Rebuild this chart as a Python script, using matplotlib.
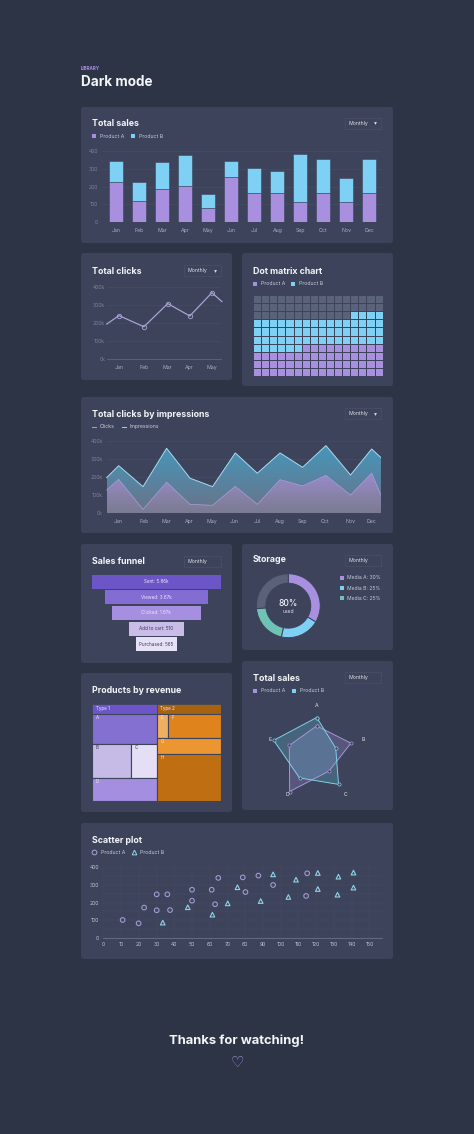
import numpy as np
import matplotlib
matplotlib.use('Agg')
import matplotlib.pyplot as plt
from matplotlib.patches import FancyBboxPatch, Rectangle
from matplotlib.colors import LinearSegmentedColormap, ListedColormap

# ---------- data ----------
months = ['Jan','Feb','Mar','Apr','May','Jun','Jul','Aug','Sep','Oct','Nov','Dec']
sales_a = [228,121,185,202,78,256,163,163,112,163,112,163]
sales_b = [114,105,151,174,81,86,143,127,269,192,137,192]

click_x = [-0.53,0,1.07,2.1,3.05,4,4.43]
click_y = [195,242,180,309,240,370,320]
click_labels = months[:5]
click_ticks = [0,1.1,2.06,3.03,4]

dot_rows = [  # bottom to top; 0 grey, 1 purple, 2 cyan
    [1]*16,[1]*16,[1]*16,[2]*6+[1]*10,[2]*16,[2]*16,[2]*16,[0]*12+[2]*4,[0]*16,[0]*16]

area_x = [-0.53,0,1.07,2.11,3.14,4.13,5.13,6.10,7.10,8.09,9.12,10.2,11.13,11.54]
impressions = [197,264,147,361,194,147,335,222,335,255,376,212,357,309]
clicks = [128,188,20,172,48,43,149,48,186,151,210,100,223,100]
area_ticks = [0,1.13,2.11,3.1,4.1,5.1,6.1,7.1,8.1,9.09,10.2,11.13]

funnel_labels = ['Sent: 5.86k','Viewed: 3.67k','Clicked: 1.87k','Add to cart: 510','Purchased: 565']
funnel_widths = [128.7,103.3,89.7,54.3,40.3]

storage_values = [33.5,20,20,26.5]
storage_labels = ['Media A: 30%','Media B: 25%','Media C: 25%']

tree_t1 = [[('A',16791)],[('B',11628),('C',7752)],[('D',12738)]]
tree_t2 = [[('E',2376),('F',11160)],[('G',8550)],[('H',26030)]]

radar_axes = ['A','B','C','D','E']
radar_a = [71,90,52,115,72]
radar_b = [92,50,93,73,113]

sc_ax = [10.9,19.9,23,30.1,30.1,36.1,37.6,50,50,61.1,63,64.8,78.6,80.1,87.4,95.7,114.3,114.9]
sc_ay = [102,83,172,157,247,247,158,211,273,273,191,340,343,260,353,300,238,366]
sc_bx = [33.5,47.6,61.5,70.1,75.6,88.7,95.7,104.3,108.6,120.9,120.9,132,132.5,141,141]
sc_by = [87,174,132,196,287,209,360,232,330,368,277,245,347,370,285]

# ---------- style ----------
BG='#2d3446'; CARD='#3c435a'; WHITE='#f4f5f8'; TICK='#7d8398'; XT='#a9aebf'; GRID='#464d64'
PURPLE='#a88fdf'; CYAN='#7fd0f5'; TEAL='#6fc3b4'; GREYC='#596279'
plt.rcParams['font.family']=['Inter','DejaVu Sans']
W,H=474,1134
fig=plt.figure(figsize=(W/100,H/100),dpi=100,facecolor=BG)
bgax=fig.add_axes([0,0,1,1]); bgax.set_xlim(0,W); bgax.set_ylim(H,0); bgax.axis('off')

def px(pt): return pt*0.72
def axpx(l,t,r,b,**k):
    a=fig.add_axes([l/W,1-b/H,(r-l)/W,(b-t)/H],**k); a.patch.set_alpha(0)
    return a
def card(l,t,r,b):
    bgax.add_patch(FancyBboxPatch((l+2,t+2),r-l-4,b-t-4,boxstyle='round,pad=2,rounding_size=2.5',fc=CARD,ec='none'))
def title(x,y,s,size=8.8):
    bgax.text(x,y+3.2,s,color=WHITE,fontsize=px(size),fontweight='bold',va='baseline',ha='left')
def dropdown(l,t,r,b,arrow=True):
    bgax.add_patch(Rectangle((l,t),r-l,b-t,fc=CARD,ec='#495068',lw=0.5))
    bgax.text(l+4,(t+b)/2,'Monthly',color='#dfe2ea',fontsize=px(5.2),va='center')
    if arrow:
        bgax.plot([r-6],[(t+b)/2],marker='v',ms=2,color='#dfe2ea',mew=0)
def legend_sq(x,y,c,s):
    bgax.add_patch(Rectangle((x,y-2),4,4,fc=c,ec='none'))
    bgax.text(x+8,y,s,color='#c9cdd9',fontsize=px(5.2),va='center')
def style(a,grid_y=True):
    for s in a.spines.values(): s.set_visible(False)
    a.tick_params(length=0,labelsize=px(5.2),pad=4)
    a.tick_params(axis='y',labelcolor=TICK)
    a.tick_params(axis='x',labelcolor=XT)
    if grid_y:
        a.grid(axis='y',color=GRID,lw=0.5); a.set_axisbelow(True)
def klabels(v): return [f'{int(t)}k' for t in v]

bgax.text(81,68.5,'LIBRARY',color=PURPLE,fontsize=px(4.5),fontweight='bold',va='center')
bgax.text(81,82,'Dark mode',color=WHITE,fontsize=px(13.5),fontweight='bold',va='center')
bgax.text(237,1041,'Thanks for watching!',color=WHITE,fontsize=px(13),fontweight='bold',va='center',ha='center')
bgax.text(237,1062,'\u2661',color=PURPLE,fontsize=px(15),va='center',ha='center',family='DejaVu Sans')

for c in [(81,107,393,243),(81,253,232,380),(242,253,393,386),(81,397,393,533),
          (81,544,232,663),(242,544,393,650),(81,673,232,812),(242,661,393,810),(81,823,393,959)]:
    card(*c)

# ---------- total sales ----------
title(92,123,'Total sales'); dropdown(345,117.5,381.5,128.5)
legend_sq(92,136,PURPLE,'Product A'); legend_sq(131,136,CYAN,'Product B')
a=axpx(102,151,382,222.3); style(a)
x=np.arange(12)
a.bar(x,sales_a,width=0.62,color=PURPLE,edgecolor=CARD,linewidth=0.4)
a.bar(x,sales_b,bottom=sales_a,width=0.62,color=CYAN,edgecolor=CARD,linewidth=0.4)
a.set_xlim((102-116.3)/23,(382-116.3)/23); a.set_ylim(0,400); a.set_yticks([0,100,200,300,400])
a.set_xticks(x,months)
a.tick_params(axis='y',pad=3)

# ---------- total clicks ----------
title(92,270.3,'Total clicks'); dropdown(184,265,221,276)
a=axpx(106.7,287.3,221,359); style(a)
a.plot(click_x,click_y,color='#a9a3d3',lw=0.9,marker='o',ms=3.2,mfc='none',mec='#a9a3d3',mew=0.6,markevery=[1,2,3,4,5],clip_on=False)
a.set_xlim(-0.53,(221-118.7)/23.3); a.set_ylim(0,400); a.set_yticks([0,100,200,300,400],klabels([0,100,200,300,400]))
a.set_xticks(click_ticks,click_labels)
a.tick_params(axis='y',pad=1)
a.spines['bottom'].set_visible(True); a.spines['bottom'].set_color('#596079'); a.spines['bottom'].set_linewidth(0.7)

# ---------- dot matrix ----------
title(253,270.5,'Dot matrix chart')
legend_sq(253,283.5,PURPLE,'Product A'); legend_sq(291.5,283.5,CYAN,'Product B')
a=axpx(253,295,382.7,376)
a.pcolormesh(np.array(dot_rows),cmap=ListedColormap([GREYC,PURPLE,CYAN]),vmin=0,vmax=2,edgecolors=CARD,linewidth=0.55)
a.axis('off')

# ---------- clicks by impressions ----------
title(92,413.5,'Total clicks by impressions'); dropdown(345,408,381.5,419)
a=axpx(92,441.3,381,513); style(a,False)
bgline=(106.7-118.67)/22.73
a.set_xlim(bgline-(106.7-92)/22.73,(381-118.67)/22.73); a.set_ylim(0,400)
a.set_yticks([0,100,200,300,400],klabels([0,100,200,300,400]))
a.set_xticks(area_ticks,months)
a.tick_params(axis='y',pad=-8)
for v in [100,200,300,400]:
    a.plot([area_x[0],area_x[-1]],[v,v],color=GRID,lw=0.5,zorder=1)
def grad(vals,top,bot,z,vmax):
    cm=LinearSegmentedColormap.from_list('g',[bot,top])
    g=np.linspace(1,0,256).reshape(-1,1)
    im=a.imshow(g,extent=[area_x[0],area_x[-1],0,vmax],cmap=cm,aspect='auto',zorder=z,vmin=0,vmax=1)
    p=a.fill_between(area_x,vals,0,color='none')
    im.set_clip_path(p.get_paths()[0],transform=a.transData)
grad(impressions,'#4597bd','#6a7387',2,380)
grad(clicks,'#9c8ccf','#7a7b90',3,230)
a.set_xlim(bgline-(106.7-92)/22.73,(381-118.67)/22.73); a.set_ylim(0,400)
a.plot(area_x,impressions,color='#a8dcf0',lw=0.7,zorder=4)
a.plot(area_x,clicks,color='#ab9dde',lw=0.5,zorder=4)
bgax.plot([92,96],[426.5,426.5],color=PURPLE,lw=0.8); bgax.text(100,426.5,'Clicks',color='#c9cdd9',fontsize=px(5.2),va='center')
bgax.plot([122,126],[426.5,426.5],color=CYAN,lw=0.8); bgax.text(130,426.5,'Impressions',color='#c9cdd9',fontsize=px(5.2),va='center')

# ---------- funnel ----------
title(92,560.7,'Sales funnel'); dropdown(184,556,221,567,False)
a=axpx(92,574,220.7,652)
cols=['#6c55c6','#836dd3','#a68ee0','#c9bde8','#e6e1f6']
tcols=['#ece8fb','#ece8fb','#ece8fb','#3c3a55','#3c3a55']
ypos=np.arange(5)
a.barh(ypos,funnel_widths,left=[-w/2 for w in funnel_widths],height=0.9,color=cols)
for i,l in enumerate(funnel_labels):
    a.text(0,i,l,ha='center',va='center',color=tcols[i],fontsize=px(4.6))
a.set_xlim(-64.35,64.35); a.set_ylim(4.5,-0.5); a.axis('off')

# ---------- storage ----------
title(253,559,'Storage'); dropdown(345,555,381.5,566,False)
a=axpx(254.3,571.7,322.3,639.7)
a.pie(storage_values,colors=[PURPLE,CYAN,TEAL,GREYC],startangle=90,counterclock=False,radius=0.94,
      wedgeprops=dict(width=0.28,edgecolor=CARD,linewidth=0.7))
a.set_xlim(-1,1); a.set_ylim(-1,1)
bgax.text(288.5,603,'80%',color=WHITE,fontsize=px(8.5),fontweight='medium',ha='center',va='center')
bgax.text(288.5,611.5,'used',color='#dfe2ea',fontsize=px(5),ha='center',va='center')
for yy,c,s in zip([577.7,588,598.3],[PURPLE,CYAN,TEAL],storage_labels):
    bgax.add_patch(Rectangle((340,yy-2),4,4,fc=c,ec='none'))
    bgax.text(347.5,yy,s,color='#c9cdd9',fontsize=px(5),va='center')

# ---------- treemap ----------
title(92,690,'Products by revenue')
a=axpx(92,703.7,220.7,801); a.axis('off')
t1=sum(v for r in tree_t1 for _,v in r); t2=sum(v for r in tree_t2 for _,v in r)
total=t1+t2; head=0.103
a.set_xlim(0,total); a.set_ylim(1,0)
tree_cols={'A':'#8470d0','B':'#c5bbe6','C':'#e4dff4','D':'#a48ee0','E':'#eeaf63','F':'#df831c','G':'#eb9630','H':'#bf6f12'}
def tree(rows,x0,w,name,hc):
    a.add_patch(Rectangle((x0,0),w,head,fc=hc,ec=CARD,lw=0.5))
    a.text(x0+total*0.028,head/2,name,color='#f0ecfa',fontsize=px(4.5),va='center')
    tot=sum(v for r in rows for _,v in r); y=head
    for r in rows:
        rs=sum(v for _,v in r); h=(1-head)*rs/tot; xx=x0
        for n,v in r:
            cw=w*v/rs
            a.add_patch(Rectangle((xx,y),cw,h,fc=tree_cols[n],ec=CARD,lw=0.8))
            a.text(xx+total*0.028,y+0.035,n,color='#3c3a55' if n in 'BC' else '#f6e9dc',fontsize=px(4.5),va='center')
            xx+=cw
        y+=h
tree(tree_t1,0,t1,'Type 1','#6c55c6'); tree(tree_t2,t1,t2,'Type 2','#a5620f')

# ---------- radar ----------
title(253,677.7,'Total sales'); dropdown(345,672,381.5,683,False)
legend_sq(253,690.5,PURPLE,'Product A'); legend_sq(292,690.5,CYAN,'Product B')
a=fig.add_axes([(316.7-50)/W,1-(754.3+50)/H,100/W,100/H],projection='polar')
a.patch.set_alpha(0); a.set_theta_zero_location('N'); a.set_theta_direction(-1); a.set_rlim(0,125)
th=np.linspace(0,2*np.pi,5,endpoint=False)
for vals,ec,fc in [(radar_a,'#a597d6','#9a85cf'),(radar_b,'#7fd0e8','#5fb3c9')]:
    tt=np.r_[th,th[0]]; vv=np.r_[vals,vals[0]]
    a.fill(tt,vv,color=fc,alpha=0.3,lw=0)
    a.plot(tt,vv,color=ec,lw=0.7,marker='o',ms=2.3,mfc=CARD,mec=ec,mew=0.5,clip_on=False)
a.set_xticks([]); a.set_yticks([]); a.grid(False); a.spines['polar'].set_visible(False)
for t,n in zip(th,radar_axes):
    a.text(t,123,n,color='#dfe2ea',fontsize=px(5.2),ha='center',va='center')

# ---------- scatter ----------
title(92,839.5,'Scatter plot')
bgax.plot([94.5],[852],marker='o',ms=3.4,mfc='none',mec='#a9a0d8',mew=0.7); bgax.text(101,852,'Product A',color='#c9cdd9',fontsize=px(5.2),va='center')
bgax.plot([134.5],[852],marker='^',ms=3.4,mfc='none',mec='#8fd3ea',mew=0.7); bgax.text(140,852,'Product B',color='#c9cdd9',fontsize=px(5.2),va='center')
a=axpx(103.3,867.3,381.7,938); style(a,False)
a.set_xlim(0,156.9); a.set_ylim(0,400)
a.set_xticks(np.arange(0,151,10)); a.set_yticks(np.arange(0,401,100))
a.set_yticks(np.arange(0,401,50),minor=True)
a.tick_params(which='minor',length=0)
a.grid(which='both',color=GRID,lw=0.35); a.set_axisbelow(True)
a.spines['bottom'].set_visible(True); a.spines['bottom'].set_color('#6a7088'); a.spines['bottom'].set_linewidth(0.6)
a.tick_params(labelcolor='#c0c4d2',pad=3)
a.scatter(sc_ax,sc_ay,s=11,facecolors='none',edgecolors='#a19ad0',linewidths=0.8,clip_on=False,zorder=3)
a.scatter(sc_bx,sc_by,s=11,marker='^',facecolors='none',edgecolors='#8fd3ea',linewidths=0.8,clip_on=False,zorder=3)

fig.savefig('out.png',dpi=100,facecolor=BG)
